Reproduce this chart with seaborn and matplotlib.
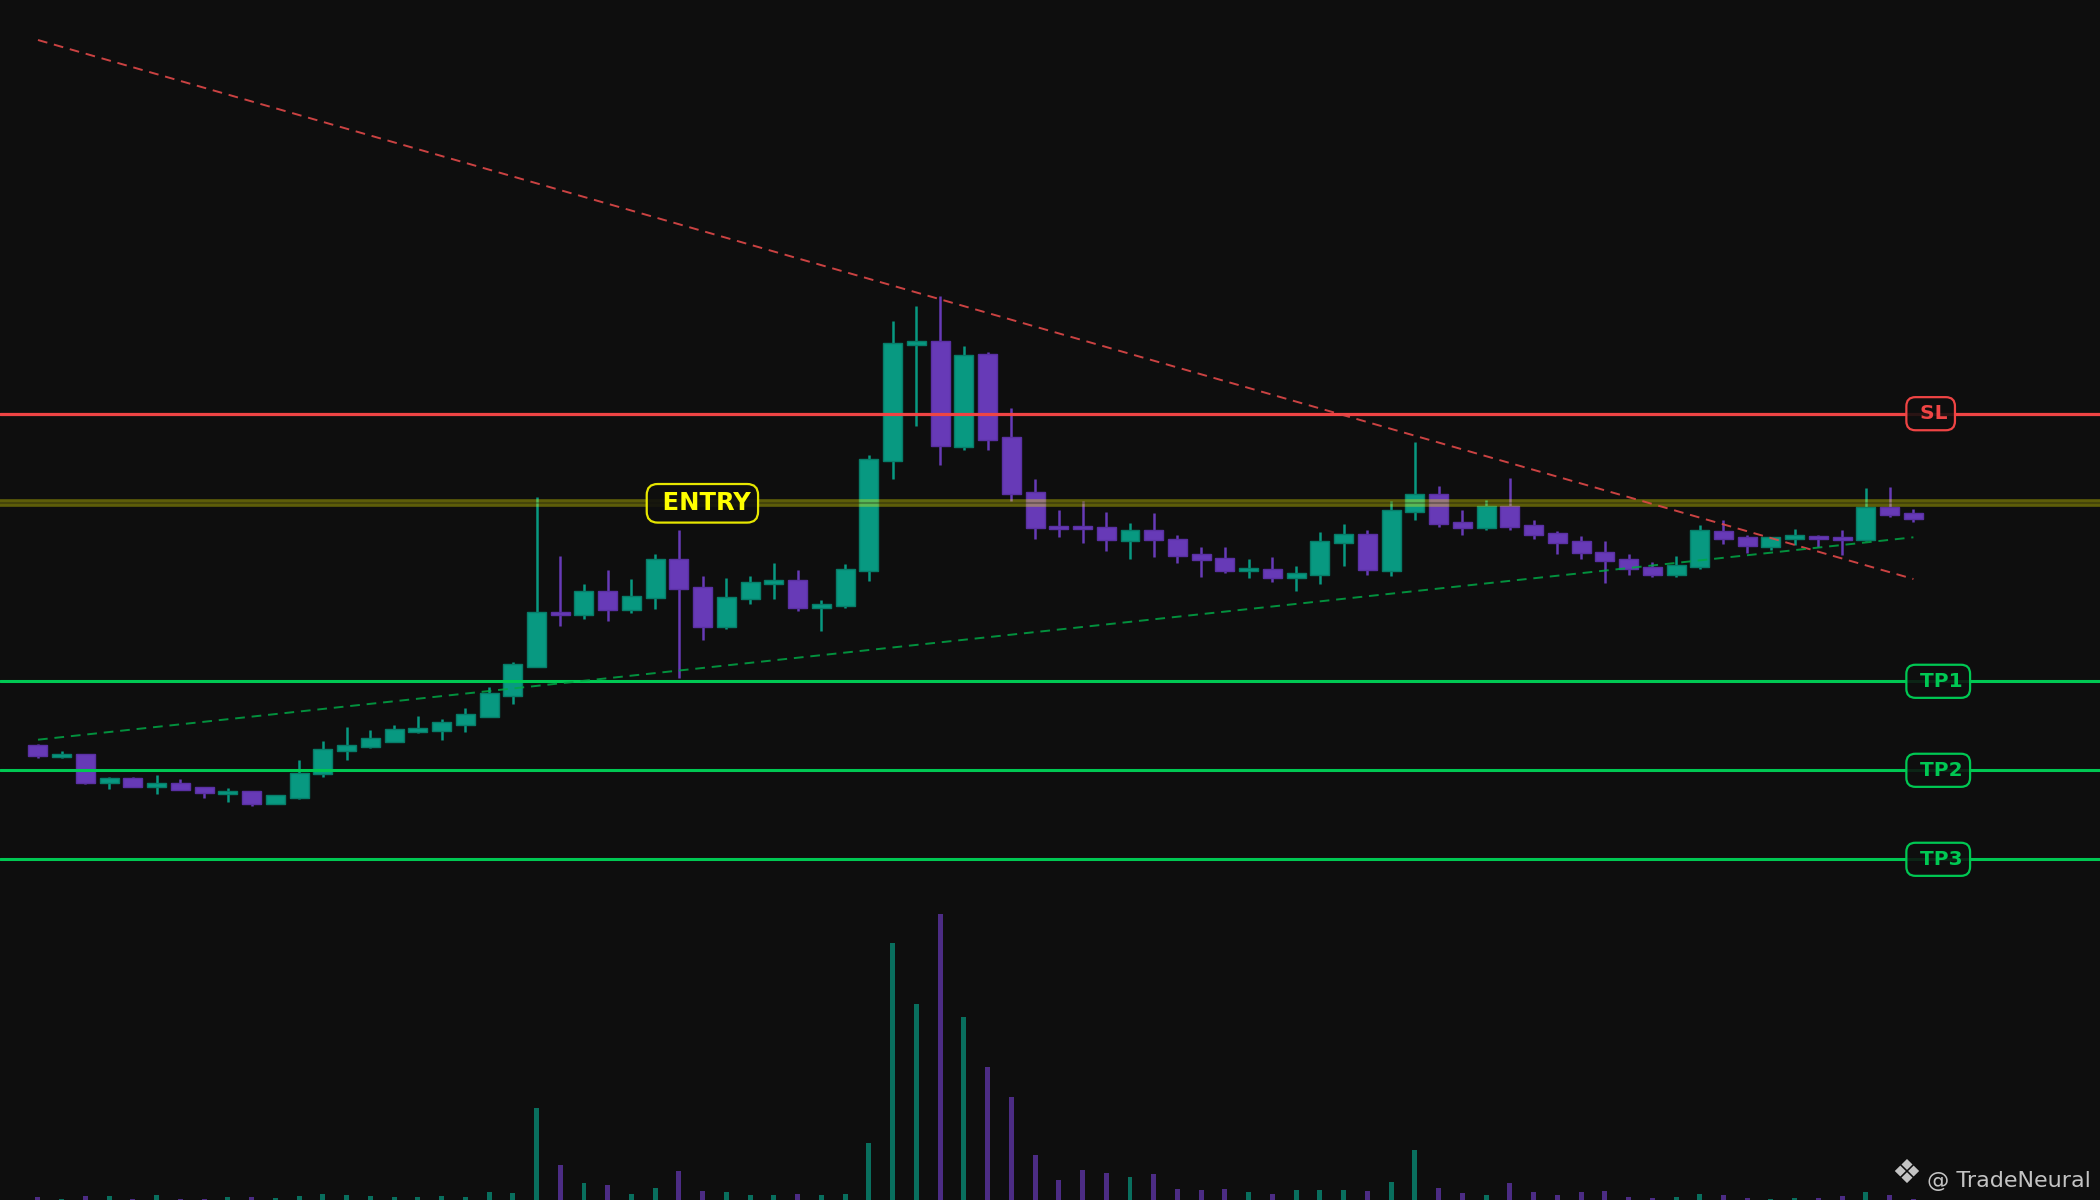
import numpy as np
import pandas as pd
import seaborn as sns
import matplotlib.pyplot as plt

# candle data (80 bars)
opens = [0.4550, 0.4433, 0.4460, 0.4173, 0.4217, 0.4133, 0.4170, 0.4127, 0.4063, 0.4090,
         0.3963, 0.4023, 0.4257, 0.4493, 0.4533, 0.4583, 0.4683, 0.4693, 0.4753, 0.4833,
         0.5043, 0.5333, 0.5877, 0.5847, 0.6087, 0.5897, 0.6017, 0.6407, 0.6127, 0.5727,
         0.6007, 0.6157, 0.6197, 0.5917, 0.5937, 0.6287, 0.7387, 0.8547, 0.8587, 0.7527,
         0.8457, 0.7627, 0.7077, 0.6743, 0.6737, 0.6727, 0.6587, 0.6697, 0.6607, 0.6457,
         0.6417, 0.6287, 0.6307, 0.6217, 0.6247, 0.6567, 0.6657, 0.6287, 0.6877, 0.7057,
         0.6777, 0.6717, 0.6940, 0.6747, 0.6667, 0.6587, 0.6477, 0.6407, 0.6327, 0.6247,
         0.6327, 0.6687, 0.6627, 0.6527, 0.6607, 0.6637, 0.6627, 0.6597, 0.6927, 0.6867]
highs = [0.4560, 0.4490, 0.4460, 0.4230, 0.4230, 0.4250, 0.4210, 0.4127, 0.4120, 0.4093,
         0.4050, 0.4400, 0.4590, 0.4730, 0.4700, 0.4750, 0.4840, 0.4810, 0.4920, 0.5130,
         0.5380, 0.7030, 0.6440, 0.6160, 0.6300, 0.6210, 0.6460, 0.6700, 0.6240, 0.6220,
         0.6240, 0.6370, 0.6300, 0.5997, 0.6360, 0.7450, 0.8790, 0.8940, 0.9040, 0.8540,
         0.8480, 0.7920, 0.7210, 0.6900, 0.6990, 0.6880, 0.6770, 0.6870, 0.6650, 0.6530,
         0.6530, 0.6410, 0.6430, 0.6340, 0.6680, 0.6760, 0.6700, 0.6987, 0.7580, 0.7140,
         0.6900, 0.7000, 0.7220, 0.6800, 0.6690, 0.6640, 0.6590, 0.6460, 0.6377, 0.6440,
         0.6750, 0.6800, 0.6647, 0.6627, 0.6710, 0.6650, 0.6700, 0.7120, 0.7130, 0.6910]
lows = [0.4420, 0.4420, 0.4160, 0.4110, 0.4133, 0.4060, 0.4100, 0.4020, 0.3980, 0.3940,
        0.3960, 0.4010, 0.4230, 0.4400, 0.4520, 0.4580, 0.4670, 0.4600, 0.4680, 0.4830,
        0.4960, 0.5330, 0.5743, 0.5813, 0.5793, 0.5873, 0.5913, 0.5223, 0.5603, 0.5713,
        0.5963, 0.6013, 0.5893, 0.5693, 0.5923, 0.6193, 0.7213, 0.7743, 0.7353, 0.7503,
        0.7503, 0.6993, 0.6613, 0.6633, 0.6573, 0.6493, 0.6413, 0.6433, 0.6373, 0.6233,
        0.6273, 0.6223, 0.6183, 0.6093, 0.6163, 0.6343, 0.6253, 0.6243, 0.6803, 0.6727,
        0.6653, 0.6703, 0.6703, 0.6613, 0.6463, 0.6413, 0.6173, 0.6253, 0.6233, 0.6233,
        0.6313, 0.6563, 0.6473, 0.6503, 0.6547, 0.6527, 0.6453, 0.6590, 0.6833, 0.6783]
closes = [0.4443, 0.4460, 0.4173, 0.4217, 0.4133, 0.4170, 0.4103, 0.4067, 0.4090, 0.3963,
          0.4047, 0.4270, 0.4510, 0.4547, 0.4620, 0.4710, 0.4717, 0.4777, 0.4860, 0.5070,
          0.5360, 0.5880, 0.5850, 0.6087, 0.5897, 0.6037, 0.6407, 0.6107, 0.5727, 0.6027,
          0.6177, 0.6197, 0.5917, 0.5957, 0.6307, 0.7407, 0.8567, 0.8587, 0.7537, 0.8447,
          0.7603, 0.7057, 0.6717, 0.6717, 0.6707, 0.6597, 0.6697, 0.6597, 0.6437, 0.6397,
          0.6287, 0.6317, 0.6217, 0.6267, 0.6587, 0.6657, 0.6297, 0.6897, 0.7057, 0.6757,
          0.6717, 0.6940, 0.6727, 0.6647, 0.6567, 0.6467, 0.6387, 0.6307, 0.6247, 0.6347,
          0.6697, 0.6607, 0.6537, 0.6627, 0.6647, 0.6607, 0.6597, 0.6927, 0.6847, 0.6807]
volumes = [3, 1, 4, 4, 1, 5, 1, 1, 3, 3,
           2, 4, 6, 5, 4, 3, 3, 4, 3, 8,
           7, 92, 35, 17, 15, 6, 12, 29, 9, 8,
           5, 5, 6, 5, 6, 57, 257, 196, 286, 183,
           133, 103, 45, 20, 30, 27, 23, 26, 11, 10,
           11, 8, 6, 10, 10, 10, 9, 18, 50, 12,
           7, 5, 17, 8, 5, 8, 9, 3, 2, 3,
           6, 5, 2, 1, 2, 2, 4, 8, 5, 1]

entry_price = 0.6967
stop_loss = 0.7863
tp_names = ["TP1", "TP2", "TP3"]
tp_prices = [0.5187, 0.4297, 0.3407]
# dashed trend lines: price at first and last candle
resistance = [1.160, 0.621]
support = [0.4603, 0.6627]

BG = "#0e0e0e"
UP = "#089981"
DOWN = "#673ab7"
RED = "#ef4444"
GREEN = "#00c853"
YELLOW = "#ffff00"

sns.set_theme(style="dark", rc={"axes.facecolor": BG, "figure.facecolor": BG})
plt.rcParams["font.family"] = ["DejaVu Sans"]

df = pd.DataFrame({"open": opens, "high": highs, "low": lows,
                   "close": closes, "volume": volumes})
df["idx"] = np.arange(len(df))
df["dir"] = np.where(df["close"] >= df["open"], "up", "down")
n = len(df)

fig = plt.figure(figsize=(21, 12), dpi=100)
axv = fig.add_axes([0, 0, 1, 0.3])
ax = fig.add_axes([0, 0, 1, 1])
ax.patch.set_alpha(0)

xlim = (-1.6, 86.86)

# volume
sns.barplot(data=df, x="idx", y="volume", hue="dir",
            palette={"up": UP, "down": DOWN}, dodge=False, width=0.21,
            alpha=0.7, saturation=1, linewidth=0, errorbar=None,
            legend=False, ax=axv)
axv.set_xlim(*xlim)
axv.set_ylim(0, 360)
axv.axis("off")

# candles
cols = np.where(df["dir"] == "up", UP, DOWN)
edges = np.where(df["dir"] == "up", "#077d69", "#5a30a3")
ax.vlines(df["idx"], df["low"], df["high"], colors=cols, lw=1.8, zorder=2)
body = (df["close"] - df["open"]).abs()
bottom = df[["open", "close"]].min(axis=1)
min_h = 0.003
bottom = np.where(body < min_h, bottom - (min_h - body) / 2, bottom)
body = np.maximum(body, min_h)
ax.bar(df["idx"], body, bottom=bottom, width=0.8, color=cols,
       edgecolor=edges, lw=1, zorder=3)

# levels
ax.axhline(stop_loss, color=RED, lw=2.3, zorder=4)
ax.axhline(entry_price, color=YELLOW, alpha=0.33, lw=5.5, zorder=4)
ax.axhline(entry_price, color=BG, alpha=0.3, lw=1.5, zorder=4)
for p in tp_prices:
    ax.axhline(p, color=GREEN, lw=2.2, zorder=4)

# trend lines
ax.plot([0, n - 1], resistance, color="#e04848", alpha=0.9, lw=1.4,
        ls=(0, (5, 3.5)), zorder=5)
ax.plot([0, n - 1], support, color="#00a846", alpha=0.85, lw=1.4,
        ls=(0, (5, 3.5)), zorder=5)

# labels
def tag(x, y, s, color, size):
    ax.text(x, y, " " + s, ha="left", va="center", fontsize=size,
            fontweight="bold", color=color, zorder=7,
            bbox=dict(boxstyle="round,pad=0.35,rounding_size=0.45",
                      fc=(0.055, 0.055, 0.055, 0.88), ec=color, lw=1.6))

tag(n - 1, stop_loss, "SL", RED, 14.5)
for name, p in zip(tp_names, tp_prices):
    tag(n - 1, p, name, GREEN, 14.5)
ax.text(25.95, entry_price, " ENTRY", ha="left", va="center", fontsize=17.5,
        fontweight="bold", color=YELLOW, zorder=7,
        bbox=dict(boxstyle="round,pad=0.3,rounding_size=0.45",
                  fc=(0.055, 0.055, 0.055, 0.88), ec="#e6e600", lw=1.6))

ax.set_xlim(*xlim)
ax.set_ylim(0, 1.2)
ax.axis("off")

# watermark
fig.text(0.9075, 0.0225, "\u2756", ha="center", va="center", fontsize=24,
         color="#d8d8d8", alpha=0.9)
fig.text(0.9175, 0.0108, "@ TradeNeural", ha="left", va="baseline",
         fontsize=16, color="#d8d8d8", alpha=0.9)

fig.savefig("out.png", dpi=100, facecolor=BG)
